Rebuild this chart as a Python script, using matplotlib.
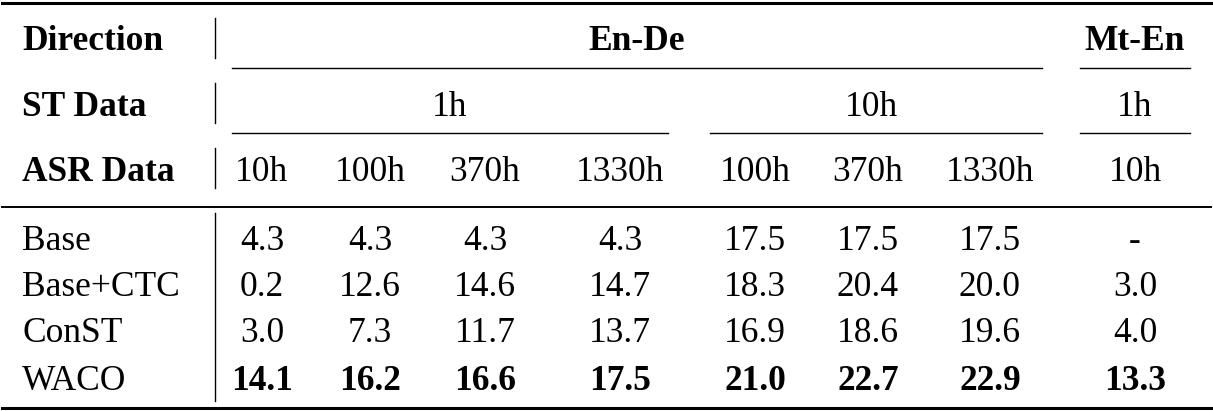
import matplotlib.pyplot as plt

# Table contents
st_groups = ["1h", "10h", "1h"]
asr_data = ["10h", "100h", "370h", "1330h", "100h", "370h", "1330h", "10h"]
methods = ["Base", "Base+CTC", "ConST", "WACO"]
scores = [
    ["4.3", "4.3", "4.3", "4.3", "17.5", "17.5", "17.5", "-"],
    ["0.2", "12.6", "14.6", "14.7", "18.3", "20.4", "20.0", "3.0"],
    ["3.0", "7.3", "11.7", "13.7", "16.9", "18.6", "19.6", "4.0"],
    ["14.1", "16.2", "16.6", "17.5", "21.0", "22.7", "22.9", "13.3"],
]

plt.rcParams["font.family"] = ["Liberation Serif", "DejaVu Serif"]
W, H = 1213, 411
fig = plt.figure(figsize=(W / 100, H / 100), dpi=100)
ax = fig.add_axes([0, 0, 1, 1])
ax.set_xlim(0, W)
ax.set_ylim(H, 0)
ax.axis("off")

FS = 25.5
col_x = [262, 370, 485, 620, 755, 868, 990, 1135]
head_y = [38, 103, 168]
row_y = [237, 283, 329, 377]
bar_x = 215

# header labels
for y, lab in zip(head_y, ["Direction", "ST Data", "ASR Data"]):
    ax.text(22, y, lab, fontsize=FS, fontweight="bold", ha="left", va="center_baseline")
    ax.plot([bar_x, bar_x], [y - 20, y + 20], color="black", lw=1)

ax.text(637, head_y[0], "En-De", fontsize=FS, fontweight="bold", ha="center", va="center_baseline")
ax.text(1135, head_y[0], "Mt-En", fontsize=FS, fontweight="bold", ha="center", va="center_baseline")
for x, lab in zip([450, 872, 1135], st_groups):
    ax.text(x, head_y[1], lab, fontsize=FS, ha="center", va="center_baseline")
for x, lab in zip(col_x, asr_data):
    ax.text(x, head_y[2], lab, fontsize=FS, ha="center", va="center_baseline")

# partial rules
for x0, x1 in [(232, 1042), (1080, 1190)]:
    ax.plot([x0, x1], [68, 68], color="black", lw=1)
for x0, x1 in [(232, 668), (710, 1042), (1080, 1190)]:
    ax.plot([x0, x1], [133, 133], color="black", lw=1)

# full rules
ax.plot([2, 1211], [3, 3], color="black", lw=2.2)
ax.plot([2, 1211], [207, 207], color="black", lw=1.4)
ax.plot([2, 1211], [408, 408], color="black", lw=2.2)
ax.plot([bar_x, bar_x], [213, 401], color="black", lw=1)

# body
for i, (m, y) in enumerate(zip(methods, row_y)):
    ax.text(22, y, m, fontsize=FS, ha="left", va="center_baseline")
    bold = m == "WACO"
    for x, v in zip(col_x, scores[i]):
        ax.text(x, y, v, fontsize=FS, ha="center", va="center_baseline",
                fontweight="bold" if bold else "normal")

fig.savefig("out.png", dpi=100)
